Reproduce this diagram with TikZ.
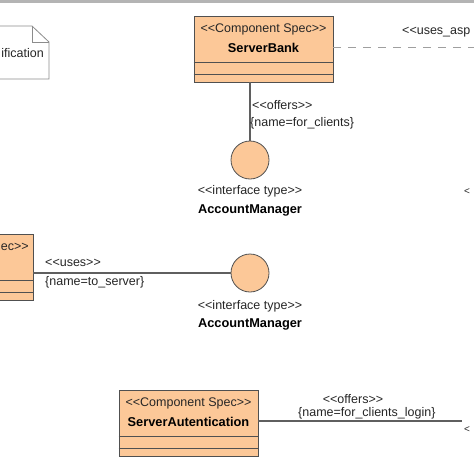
\documentclass[tikz,border=0pt]{standalone}
\usepackage{fontspec}
\setmainfont{Liberation Sans}[Ligatures=TeXOff]
\definecolor{compfill}{RGB}{252,200,152}
\definecolor{compline}{RGB}{80,80,80}
\definecolor{conn}{RGB}{95,95,95}
\definecolor{notegray}{RGB}{140,140,140}
\definecolor{topgray}{RGB}{180,180,180}
\tikzset{
  comp/.style={draw=compline, fill=compfill, line width=0.9pt, minimum width=139pt, minimum height=66pt, inner sep=0pt},
  iface/.style={circle, draw=compline, fill=compfill, line width=0.8pt, minimum size=38pt, inner sep=0pt},
  lbl/.style={font=\fontsize{12.5}{14}\selectfont, inner sep=0pt, text=black!85},
  blbl/.style={font=\fontsize{12.8}{14}\selectfont\bfseries, inner sep=0pt},
  connector/.style={draw=conn, line width=1.1pt},
  divider/.style={draw=compline, line width=0.9pt},
  dep/.style={draw=gray!75, line width=0.9pt, dash pattern=on 8pt off 7pt},
}
\begin{document}
\begin{tikzpicture}[x=1pt,y=-1pt]
\useasboundingbox (0,0) rectangle (474,474);
\clip (0,0) rectangle (474,474);
\fill[white] (0,0) rectangle (474,474);
\fill[topgray] (0,0) rectangle (474,2.5);

% note
\draw[notegray, fill=white, line width=0.8pt] (-5,26) -- (32,26) -- (49,42) -- (49,79) -- (-5,79) -- cycle;
\draw[notegray, line width=0.8pt] (32,26) -- (32,42) -- (49,42);
\node[lbl, anchor=east] (notetext) at (44,53) {ification};

% ServerBank
\node[comp] (sb) at (263.5,49) {};
\draw[divider] (sb.west |- 0,62) -- (sb.east |- 0,62);
\draw[divider] (sb.west |- 0,74) -- (sb.east |- 0,74);
\node[lbl] (sbst) at (263.5,29) {<<Component Spec>>};
\node[blbl] (sbname) at (263.5,48) {ServerBank};

% dashed dependency to the right
\coordinate (depend) at (474,47);
\draw[dep] (sb.east |- depend) -- (depend);
\node[lbl, anchor=west] (usesasp) at (402,32) {<<uses\_asp};

% interface 1
\node[iface] (c1) at (250,160) {};
\draw[connector] (c1.north) -- (c1.north |- sb.south);
\node[lbl, anchor=west] (offers1) at (252,105) {<<offers>>};
\node[lbl, anchor=west] (offers1n) at (250,123) {\{name=for\_clients\}};
\node[lbl] (c1st) at (250,191) {<<interface type>>};
\node[blbl] (c1name) at (250,210) {AccountManager};

% left component (partial)
\node[comp, minimum width=43pt] (lb) at (11.5,267) {};
\draw[divider] (lb.west |- 0,280) -- (lb.east |- 0,280);
\draw[divider] (lb.west |- 0,292) -- (lb.east |- 0,292);
\node[lbl, anchor=east] (lbst) at (29,247) {ec>>};

% interface 2
\node[iface] (c2) at (250,273) {};
\draw[connector] (c2.west -| lb.east) -- (c2.west);
\node[lbl, anchor=west] (uses) at (45,263) {<<uses>>};
\node[lbl, anchor=west] (usesn) at (45,282) {\{name=to\_server\}};
\node[lbl] (c2st) at (250,306) {<<interface type>>};
\node[blbl] (c2name) at (250,324) {AccountManager};

% partial label on right
\node[lbl, anchor=west, font=\fontsize{10}{11}\selectfont] (rlt1) at (464,192) {<};

% ServerAutentication
\node[comp] (sa) at (188.5,423) {};
\draw[divider] (sa.west |- 0,436) -- (sa.east |- 0,436);
\draw[divider] (sa.west |- 0,448) -- (sa.east |- 0,448);
\node[lbl] (sast) at (188.5,403) {<<Component Spec>>};
\node[blbl] (saname) at (188.5,422) {ServerAutentication};

\coordinate (saend) at (462,421);
\draw[connector] (sa.east |- saend) -- (saend);
\node[lbl] (offers2) at (353,399) {<<offers>>};
\node[lbl, anchor=west] (offers2n) at (298,413) {\{name=for\_clients\_login\}};
\node[lbl, anchor=west, font=\fontsize{10}{11}\selectfont] (rlt2) at (464,430) {<};
\end{tikzpicture}
\end{document}
